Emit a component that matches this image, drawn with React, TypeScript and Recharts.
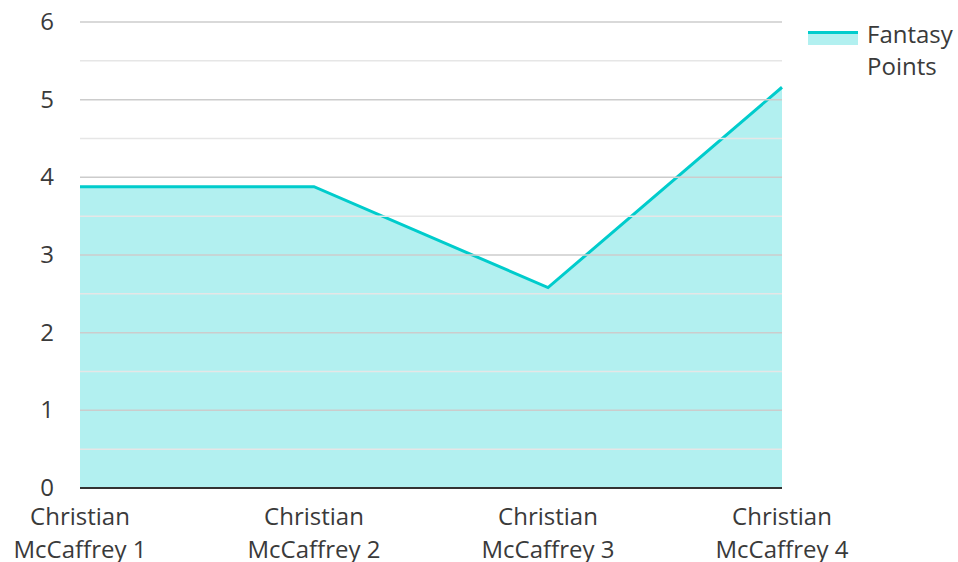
import { AreaChart, Area, XAxis, YAxis, ReferenceLine, Legend } from "recharts";

const players = ["Christian McCaffrey 1", "Christian McCaffrey 2", "Christian McCaffrey 3", "Christian McCaffrey 4"];
const fantasyPoints = [3.88, 3.88, 2.58, 5.16];
const yTicks = [0, 1, 2, 3, 4, 5, 6];
const minorGrid = [0.5, 1.5, 2.5, 3.5, 4.5, 5.5];

const data = players.map((name, i) => ({ name, points: fantasyPoints[i] }));

const FONT = "'Open Sans', sans-serif";
const TEXT = "#3a3a3a";
const TEAL = "#00cccc";

function XTick({ x, y, payload }: any) {
  const parts = String(payload.value).split(" ");
  const first = parts[0];
  const rest = parts.slice(1).join(" ");
  return (
    <text x={x} y={y} textAnchor="middle" fill={TEXT} fontSize={24} fontFamily={FONT}>
      <tspan x={x} dy={29}>{first}</tspan>
      <tspan x={x} dy={33}>{rest}</tspan>
    </text>
  );
}

function YTick({ x, y, payload }: any) {
  return (
    <text x={x} y={y} dy={8} textAnchor="end" fill={TEXT} fontSize={24} fontFamily={FONT}>
      {payload.value}
    </text>
  );
}

function LegendBox() {
  return (
    <div style={{ display: "flex", alignItems: "flex-start", fontFamily: FONT, fontSize: 24, color: TEXT }}>
      <svg width={50} height={16} style={{ marginTop: 13, marginRight: 9, flexShrink: 0 }}>
        <rect x={0} y={0} width={50} height={14} fill={TEAL} fillOpacity={0.3} />
        <rect x={0} y={0} width={50} height={3} fill={TEAL} />
      </svg>
      <div style={{ lineHeight: "32px", width: 92 }}>Fantasy Points</div>
    </div>
  );
}

export default function App() {
  return (
    <div style={{ position: "absolute", left: 0, top: 0, background: "#fff" }}>
      <AreaChart width={958} height={562} data={data} margin={{ top: 22, right: 26, left: 20, bottom: 0 }}>
        {minorGrid.map((v) => (
          <ReferenceLine key={"m" + v} y={v} stroke="#e6e6e6" strokeWidth={1.5} />
        ))}
        {yTicks.slice(1).map((v) => (
          <ReferenceLine key={"t" + v} y={v} stroke="#cccccc" strokeWidth={1.5} />
        ))}
        <XAxis
          dataKey="name"
          height={74}
          interval={0}
          tick={<XTick />}
          tickLine={false}
          axisLine={{ stroke: "#333333", strokeWidth: 2 }}
        />
        <YAxis
          width={60}
          domain={[0, 6]}
          ticks={yTicks}
          tick={<YTick />}
          tickLine={false}
          axisLine={false}
          tickSize={0}
          tickMargin={26}
        />
        <Legend
          layout="vertical"
          align="right"
          verticalAlign="top"
          wrapperStyle={{ left: 808, top: 18, width: 150 }}
          content={<LegendBox />}
        />
        <Area
          type="linear"
          dataKey="points"
          name="Fantasy Points"
          stroke={TEAL}
          strokeWidth={3}
          fill={TEAL}
          fillOpacity={0.3}
          dot={false}
          activeDot={false}
          isAnimationActive={false}
        />
      </AreaChart>
    </div>
  );
}
